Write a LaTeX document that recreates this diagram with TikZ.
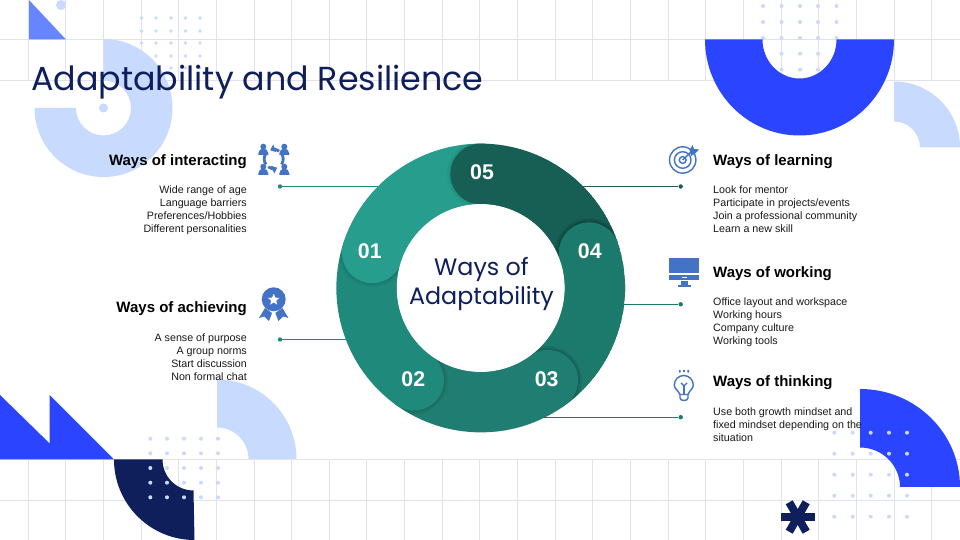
\documentclass[tikz,border=0pt]{standalone}
\usepackage{fontspec}
\setmainfont{Liberation Sans}
\newfontfamily\pop{Poppins}
\usetikzlibrary{arrows.meta,shapes.geometric}
\definecolor{navy}{HTML}{0F1F5C}
\definecolor{vivid}{HTML}{2A44FF}
\definecolor{midblue}{HTML}{6685FF}
\definecolor{pale}{HTML}{C9DAFF}
\definecolor{gridc}{HTML}{E2E2EE}
\definecolor{iconc}{HTML}{4472C4}
\definecolor{sa}{HTML}{279E8D}
\definecolor{sb}{HTML}{1F8A7C}
\definecolor{sc}{HTML}{1F7E71}
\definecolor{sd}{HTML}{1C7A6D}
\definecolor{se}{HTML}{175E54}
\tikzset{
  gridline/.style={gridc,line width=0.8pt},
  enddot/.style={circle,inner sep=0pt,minimum size=4.4pt},
  conn/.style={line width=1pt},
  headl/.style={font=\fontsize{15}{18}\selectfont\bfseries,text=black,inner sep=0pt},
  bodyl/.style={font=\fontsize{10.7}{13}\selectfont,text=black!90,inner sep=0pt},
  numl/.style={font=\fontsize{21.3}{24}\selectfont\bfseries,text=white,inner sep=0pt,anchor=base},
  iconline/.style={draw=iconc,line width=1.4pt,fill=none},
}
% head shadow and body of a ring segment: start angle, shadow opacity, colour
\newcommand{\ringseg}[3]{%
  \foreach \k in {1,...,6}{
    \draw[black,opacity=#2,line width={60.7pt+1.4pt*\k},line cap=round]
      (C) ++(#1:114pt) arc[start angle=#1,end angle={#1-25},radius=114pt];
  }
  \draw[#3,line width=60.7pt,line cap=round]
    (C) ++(#1:114pt) arc[start angle=#1,end angle={#1-72},radius=114pt];
}
\begin{document}
\begin{tikzpicture}[x=1pt,y=1pt]
\useasboundingbox (0,0) rectangle (960,540);
\fill[white] (0,0) rectangle (960,540);
% grid
\foreach \i in {0,...,24}{
  \draw[gridline] ({28+37.65*\i},540) -- ({28+37.65*\i},459.5);
  \draw[gridline] ({28+37.65*\i},80.5) -- ({28+37.65*\i},0);
}
\foreach \yy in {500.5,459.5,80.5,39.5}{
  \draw[gridline] (0,\yy) -- (960,\yy);
}
% dots under the shapes
\foreach \xx in {763,781.5,800,818,836.5}{\foreach \yy in {6,22,38,53.7,69.7}{
  \fill[pale] (\xx,540-\yy) circle[radius=2pt];}}
\foreach \xx in {141.5,156,171,185.5,200}{\foreach \yy in {18,31,43,56,68}{
  \fill[pale] (\xx,540-\yy) circle[radius=1.8pt];}}
% top left
\fill[midblue] (29,540) -- (66,500.5) -- (29,500.5) -- cycle;
\fill[pale] (61,535) circle[radius=5pt];
\fill[pale] (103.5,501) arc[start angle=90,end angle=-180,radius=69pt]
  -- (76,432) arc[start angle=180,end angle=450,radius=27.5pt] -- cycle;
\fill[pale] (103.5,432) circle[radius=4.5pt];
% top right
\fill[vivid] (705,500.5) arc[start angle=180,end angle=360,x radius=94.5pt,y radius=96pt]
  -- (836.5,500.5) arc[start angle=360,end angle=180,x radius=37pt,y radius=39pt] -- cycle;
\fill[pale] (894,458.5) arc[start angle=90,end angle=0,radius=66pt]
  -- (920,392.5) arc[start angle=0,end angle=90,radius=26pt] -- cycle;
% bottom left
\fill[vivid] (0,145) -- (49.7,96.5) -- (49.7,145) -- (114,80.5) -- (0,80.5) -- cycle;
\fill[pale] (217,160.5) arc[start angle=90,end angle=0,radius=79.5pt]
  -- (248.5,81) arc[start angle=0,end angle=90,radius=31.5pt] -- cycle;
\fill[navy] (114,80.5) arc[start angle=180,end angle=270,radius=80.5pt]
  -- (193.5,49.5) arc[start angle=270,end angle=180,radius=31pt] -- cycle;
\foreach \xx in {150.3,167,184,201,218}{\foreach \yy in {438.7,453.3,468,482.7,497.3}{
  \fill[pale] (\xx,540-\yy) circle[radius=2pt];}}
% bottom right
\fill[vivid] (860,151) arc[start angle=90,end angle=0,x radius=100pt,y radius=98pt]
  -- (900,53) arc[start angle=0,end angle=90,x radius=40pt,y radius=39.5pt] -- cycle;
\foreach \xx in {834.3,852.7,870.7,889,907}{\foreach \yy in {432.7,453.7,474.7,495.7,516.7}{
  \fill[pale] (\xx,540-\yy) circle[radius=2pt];}}
\foreach \a in {0,60,120}{
  \draw[navy,line width=8pt] (797.7,23) ++(\a:17pt) -- ++(\a+180:34pt);
}
% connectors
\coordinate (C) at (480.7,252);
\node[enddot,fill=sb] (d1) at (280,353.5) {};
\node[enddot,fill=sb] (d2) at (280,200.5) {};
\node[enddot,fill=se] (d5) at (680.7,353.5) {};
\node[enddot,fill=sd] (d4) at (680.7,235.7) {};
\node[enddot,fill=sd] (d3) at (680.7,122.8) {};
\coordinate (r1) at (390,353.5);
\coordinate (r2) at (360,200.5);
\coordinate (r5) at (570,353.5);
\coordinate (r4) at (610,235.7);
\coordinate (r3) at (530,122.8);
\draw[conn,sb] (d1) -- (r1);
\draw[conn,sb] (d2) -- (r2);
\draw[conn,se] (d5) -- (r5);
\draw[conn,sd] (d4) -- (r4);
\draw[conn,sd] (d3) -- (r3);
% ring
\begin{scope}
\clip (C) circle[radius=144.6pt];
\ringseg{162}{0.012}{sa}
\ringseg{90}{0.012}{se}
\ringseg{18}{0.04}{sd}
\ringseg{-54}{0.035}{sc}
\ringseg{-126}{0.02}{sb}
% head of 01 lies over the tail of 02
\foreach \k in {1,...,6}{
  \draw[black,opacity=0.015,line width={60.7pt+1.4pt*\k},line cap=round]
    (C) ++(162:114pt) arc[start angle=162,end angle=150,radius=114pt];
}
\draw[sa,line width=60.7pt,line cap=round]
  (C) ++(162:114pt) arc[start angle=162,end angle=130,radius=114pt];
\end{scope}
\fill[white] (C) circle[radius=83.9pt];
% numbers
\node[numl] (n1) at (369.8,281.3) {01};
\node[numl] (n2) at (413.3,153) {02};
\node[numl] (n3) at (546.7,153) {03};
\node[numl] (n4) at (589.8,281.3) {04};
\node[numl] (n5) at (482,360) {05};
% centre
\node[inner sep=0pt,anchor=base,text=navy,font=\pop\fontsize{23.8}{29}\selectfont] (w1) at (481.5,264) {Ways of};
\node[inner sep=0pt,anchor=base,text=navy,font=\pop\fontsize{23.8}{29}\selectfont] (w2) at (481.5,235) {Adaptability};
% title
\node[inner sep=0pt,anchor=base west,text=navy,font=\pop\fontsize{33.3}{40}\selectfont] (title) at (31,449) {Adaptability and Resilience};
% left texts
\node[headl,anchor=base east] (hi) at (247,374.3) {Ways of interacting};
\node[bodyl,anchor=north east,align=right] (bi) at (247,354.3) {Wide range of age\\Language barriers\\Preferences/Hobbies\\Different personalities};
\node[headl,anchor=base east] (ha) at (247,227.5) {Ways of achieving};
\node[bodyl,anchor=north east,align=right] (ba) at (247,206.7) {A sense of purpose\\A group norms\\Start discussion\\Non formal chat};
% right texts
\node[headl,anchor=base west] (hl) at (713,374.3) {Ways of learning};
\node[bodyl,anchor=north west,align=left] (bl) at (713,354.3) {Look for mentor\\Participate in projects/events\\Join a professional community\\Learn a new skill};
\node[headl,anchor=base west] (hw) at (713,262.5) {Ways of working};
\node[bodyl,anchor=north west,align=left] (bw) at (713,242.5) {Office layout and workspace\\Working hours\\Company culture\\Working tools};
\node[headl,anchor=base west] (ht) at (713,153.3) {Ways of thinking};
\node[bodyl,anchor=north west,align=left] (bt) at (713,132.7) {Use both growth mindset and\\fixed mindset depending on the\\situation};
% icon: interacting
\begin{scope}[iconc]
\foreach \xx in {263.3,284.3}{
  \fill (\xx,393.3) circle[radius=3pt];
  \fill (\xx,373.3) circle[radius=3pt];
  \fill (\xx-5,385) -- (\xx-5,386.5) arc[start angle=180,end angle=0,radius=5pt] -- (\xx+5,385) -- cycle;
  \fill (\xx-5,365) -- (\xx-5,366.5) arc[start angle=180,end angle=0,radius=5pt] -- (\xx+5,365) -- cycle;
}
\draw[line width=2.8pt,-{Triangle[length=5pt,width=8pt]}] (273.7,381) ++(55:9.5pt) arc[start angle=55,end angle=112,radius=9.5pt];
\draw[line width=2.8pt,-{Triangle[length=5pt,width=8pt]}] (273.7,381) ++(-125:9.5pt) arc[start angle=-125,end angle=-68,radius=9.5pt];
\draw[line width=2.8pt] (273.7,381) ++(145:9.5pt) arc[start angle=145,end angle=215,radius=9.5pt];
\draw[line width=2.8pt] (273.7,381) ++(35:9.5pt) arc[start angle=35,end angle=-35,radius=9.5pt];
\end{scope}
% icon: achieving
\begin{scope}[iconc]
\fill (265,232) -- (259,222) -- (264.3,223.5) -- (269,219) -- (272,227) -- cycle;
\fill (282.4,232) -- (288.4,222) -- (283.1,223.5) -- (278.4,219) -- (275.4,227) -- cycle;
\fill (273.7,240.7) circle[radius=12pt];
\node[star,star points=5,star point ratio=2.2,fill=white,inner sep=0pt,minimum size=12pt] (stara) at (273.7,240.2) {};
\end{scope}
% icon: learning
\draw[iconline] (682.7,380) circle[radius=13.2pt];
\draw[iconline] (682.7,380) circle[radius=8.3pt];
\draw[iconline] (682.7,380) circle[radius=3.4pt];
\draw[iconline] (682.7,380) -- (692,389);
\fill[iconc] (691,384) -- (689.5,390) -- (692.5,395) -- (694,391) -- (699,390.5) -- (695,386.5) -- cycle;
% icon: working
\fill[iconc] (669,267.3) rectangle (699,281.7);
\fill[iconc] (669,260) rectangle (699,265);
\fill[white] (681.5,262) rectangle (686.5,263);
\fill[iconc] (680.7,254.7) rectangle (688,258.5);
\fill[iconc] (678,252.7) rectangle (691,254.7);
% icon: thinking
\draw[iconline] (680,145.5) .. controls (678,150) and (674.3,151) .. (674.3,155)
  arc[start angle=180,end angle=0,radius=9.5pt]
  .. controls (693.3,151) and (689.5,150) .. (688,145.5) -- cycle;
\draw[iconline] (680,145.5) -- (680,142) arc[start angle=180,end angle=360,x radius=4pt,y radius=2.5pt] -- (688,145.5);
\draw[iconline] (684,145.5) -- (684,155);
\draw[iconline] (681,157) -- (684,154) -- (687,157);
\draw[iconline,line width=1.6pt] (680,167.5) -- (679.7,170);
\draw[iconline,line width=1.6pt] (684,167.5) -- (684,170.3);
\draw[iconline,line width=1.6pt] (688,167.5) -- (688.3,170);
\end{tikzpicture}
\end{document}
